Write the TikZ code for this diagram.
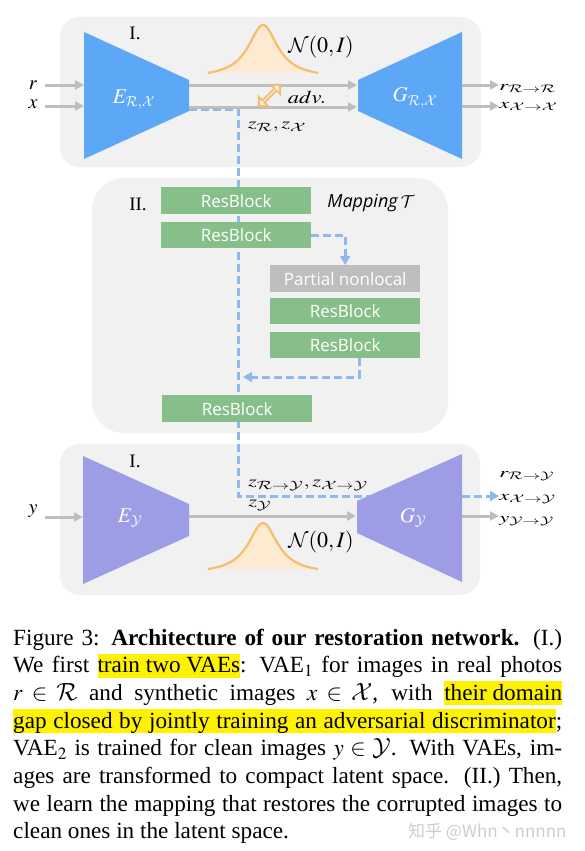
\documentclass[tikz,border=0pt]{standalone}
\usepackage{mathptmx}
\usepackage{fontspec}
\setmainfont{Liberation Serif}
\newfontfamily\blockfont{Open Sans}
\newfontfamily\cjkfont{Noto Sans CJK SC}
\DeclareMathAlphabet{\mathcal}{OMS}{cmsy}{m}{n}
\DeclareMathSizes{14}{14}{11}{9}
\DeclareMathSizes{15}{15}{11.5}{9}
\usetikzlibrary{arrows.meta,shapes.arrows}
\definecolor{panel}{RGB}{241,241,241}
\definecolor{encblue}{RGB}{92,168,246}
\definecolor{encpurple}{RGB}{157,157,230}
\definecolor{arrgray}{RGB}{190,190,190}
\definecolor{dashblue}{RGB}{142,186,234}
\definecolor{blockgreen}{RGB}{134,191,137}
\definecolor{blockgray}{RGB}{190,190,190}
\definecolor{gaussline}{RGB}{245,190,110}
\definecolor{gaussfill}{RGB}{253,234,208}
\definecolor{hly}{RGB}{255,242,0}
\definecolor{wmgray}{RGB}{205,205,205}
\newlength\semiw
\newcommand\hlt[1]{{\setlength\fboxsep{0pt}\colorbox{hly}{\rule[-5pt]{0pt}{24pt}#1}}}
\newcommand\capfont{\fontsize{23.2}{27.7}\selectfont}
\newcommand\fs[1]{\fontsize{#1}{#1}\selectfont}
\begin{document}
\begin{tikzpicture}[x=1pt,y=-1pt,
  panelbox/.style={fill=panel, rounded corners=20pt},
  flow/.style={draw=arrgray, line width=3pt, -{Triangle[length=9pt,width=9pt]}},
  skip/.style={draw=dashblue, line width=3pt, dash pattern=on 8pt off 4pt},
  skiptip/.style={skip, -{Triangle[length=9pt,width=10pt,fill=dashblue]}},
  blockbox/.style={fill=blockgreen, text=white, font=\blockfont\fs{17}, minimum width=150pt, minimum height=27pt, inner sep=0pt, anchor=north west},
  lbl/.style={inner sep=0pt},
  outlbl/.style={inner sep=0pt, anchor=base west, font=\fs{14}, xscale=1.6},
  zlbl/.style={inner sep=0pt, font=\fs{15}, xscale=1.5},
  caption/.style={anchor=base west, inner sep=0pt, font=\capfont},
  gauss/.style={draw=gaussline, line width=2.2pt},
]
\useasboundingbox (0,0) rectangle (584,851);
% panels
\fill[panelbox] (60,17) rectangle (481,167);
\fill[panel, rounded corners=32pt] (92,178) rectangle (448,433);
\fill[panelbox] (60,444) rectangle (480,595);

% coordinates
\coordinate (e1skip) at (189,109);
\coordinate (bend1) at (238,109);
\coordinate (bend2) at (238,496);
\coordinate (yout2) at (499,496);
\coordinate (ret) at (359,377);
\coordinate (join) at (243,377);

% main dashed skip path (behind blocks and decoder)
\draw[skiptip] (e1skip) -- (bend1) -- (bend2) -- (yout2);

% mapping blocks
\node[blockbox] (rb1) at (161,187) {ResBlock};
\node[blockbox, minimum height=26pt] (rb2) at (161,222) {ResBlock};
\node[blockbox, fill=blockgray] (pn) at (270,265) {Partial nonlocal};
\node[blockbox, minimum height=26pt] (rb3) at (270,298) {ResBlock};
\node[blockbox, minimum height=26pt] (rb4) at (270,332) {ResBlock};
\node[blockbox] (rb5) at (162,395) {ResBlock};
\draw[skiptip] (rb2.east) -| (pn.north);
\draw[skiptip] (rb4.south -| ret) -- (ret) -- (join);

% encoders / decoders
\fill[encblue] (84,32) -- (189,80) -- (189,111) -- (84,159) -- cycle;
\fill[encblue] (358,80) -- (462,32) -- (462,159) -- (358,111) -- cycle;
\fill[encpurple] (83,456) -- (189,504) -- (189,536) -- (83,584) -- cycle;
\fill[encpurple] (357,501) -- (462,454) -- (462,582) -- (357,533) -- cycle;

\node[lbl, text=white, font=\fs{21}] (E1) at (134,100) {$E_{\mathcal{R},\mathcal{X}}$};
\node[lbl, text=white, font=\fs{21}] (G1) at (415,98) {$G_{\mathcal{R},\mathcal{X}}$};
\node[lbl, text=white, font=\fs{21}] (E2) at (130,518) {$E_{\mathcal{Y}}$};
\node[lbl, text=white, font=\fs{21}] (G2) at (413,518) {$G_{\mathcal{Y}}$};

% top flows
\coordinate (rin) at (45,85);   \coordinate (rinE) at (84,85);
\coordinate (xin) at (45,106);  \coordinate (xinE) at (84,106);
\coordinate (m1a) at (189,85);  \coordinate (m1b) at (357,85);
\coordinate (m2a) at (189,107); \coordinate (m2b) at (357,107);
\coordinate (o1a) at (462,85);  \coordinate (o1b) at (499,85);
\coordinate (o2a) at (462,106); \coordinate (o2b) at (499,106);
\draw[flow] (rin) -- (rinE);
\draw[flow] (xin) -- (xinE);
\draw[flow] (m1a) -- (m1b);
\draw[flow] (m2a) -- (m2b);
\draw[flow] (o1a) -- (o1b);
\draw[flow] (o2a) -- (o2b);
% bottom flows
\coordinate (yin) at (45,517);  \coordinate (yinE) at (83,517);
\coordinate (m3a) at (189,516); \coordinate (m3b) at (356,516);
\coordinate (o3a) at (462,516); \coordinate (o3b) at (499,516);
\draw[flow] (yin) -- (yinE);
\draw[flow] (m3a) -- (m3b);
\draw[flow] (o3a) -- (o3b);

% gaussians
\fill[gaussfill] plot[domain=-55:55,samples=101] ({263+\x},{78-53/(1+(\x/18)^2)}) -- cycle;
\draw[gauss] plot[domain=-55:55,samples=101] ({263+\x},{78-53/(1+(\x/18)^2)});
\fill[gaussfill] plot[domain=-55:55,samples=101] ({263+\x},{574-51/(1+(\x/18)^2)}) -- cycle;
\draw[gauss] plot[domain=-55:55,samples=101] ({263+\x},{574-51/(1+(\x/18)^2)});

% adversarial arrow
\node[double arrow, draw=gaussline, line width=1.8pt, fill=panel, rotate=45,
      minimum height=30pt, minimum width=13pt, double arrow head extend=3pt, inner sep=0pt] (adv) at (269.5,95.5) {};

% labels top
\node[lbl, font=\fs{19}] (I1) at (135,33) {I.};
\node[lbl, font=\fs{22}] (N1) at (321,47) {$\mathcal{N}(0,I)$};
\node[lbl, font=\fs{18}, xscale=1.25] (advl) at (307,97) {$adv.$};
\node[zlbl] (z1) at (277,127) {$z_{\mathcal{R}}, z_{\mathcal{X}}$};
\node[lbl, font=\fs{20}] (rl) at (33,85) {$r$};
\node[lbl, font=\fs{20}] (xl) at (33,104) {$x$};
\node[outlbl] (ro) at (499,90) {$r_{\mathcal{R}\to\mathcal{R}}$};
\node[outlbl] (xo) at (499,108) {$x_{\mathcal{X}\to\mathcal{X}}$};

% labels mapping
\node[lbl, font=\fs{19}] (II) at (138,204) {II.};
\node[lbl, font=\blockfont\itshape\fs{18}] (map) at (371,203) {Mapping\,$\mathcal{T}$};

% labels bottom
\node[lbl, font=\fs{19}] (I2) at (135,461) {I.};
\node[lbl, font=\fs{20}] (yl) at (33,511) {$y$};
\node[zlbl] (z2) at (308,485) {$z_{\mathcal{R}\to\mathcal{Y}}, z_{\mathcal{X}\to\mathcal{Y}}$};
\node[zlbl] (z3) at (260,505) {$z_{\mathcal{Y}}$};
\node[lbl, font=\fs{22}] (N2) at (321,542) {$\mathcal{N}(0,I)$};
\node[outlbl] (ro2) at (499,477) {$r_{\mathcal{R}\to\mathcal{Y}}$};
\node[outlbl] (xo2) at (499,500) {$x_{\mathcal{X}\to\mathcal{Y}}$};
\node[outlbl] (yo2) at (499,522) {$y_{\mathcal{Y}\to\mathcal{Y}}$};

% caption
\node[caption] (c1) at (13,645) {\makebox[549pt][s]{Figure 3: \textbf{Architecture of our restoration network.} (I.)}};
\node[caption] (c2) at (13,672.7) {\makebox[549pt][s]{We first \hlt{train two VAEs}: VAE$_1$ for images in real photos}};
\node[caption] (c3) at (13,700.4) {\makebox[549pt][s]{$r\in\mathcal{R}$ and synthetic images $x\in\mathcal{X}$, with \hlt{their domain}}};
\node[caption] (c4) at (13,728.1) {\settowidth\semiw{;}\hlt{\makebox[\dimexpr549pt-\semiw\relax][s]{gap closed by jointly training an adversarial discriminator}};};
\node[caption] (c5) at (13,755.8) {\makebox[549pt][s]{VAE$_2$ is trained for clean images $y\in\mathcal{Y}$. With VAEs, im-}};
\node[caption] (c6) at (13,783.5) {\makebox[549pt][s]{ages are transformed to compact latent space. (II.) Then,}};
\node[caption] (c7) at (13,811.2) {\makebox[549pt][s]{we learn the mapping that restores the corrupted images to}};
\node[caption] (c8) at (13,838.9) {clean ones in the latent space.};
\node[anchor=base west, inner sep=0pt, text=wmgray, font=\cjkfont\fs{17}] (wm) at (408,837) {知乎 @Whn丶nnnnn};
\end{tikzpicture}
\end{document}
